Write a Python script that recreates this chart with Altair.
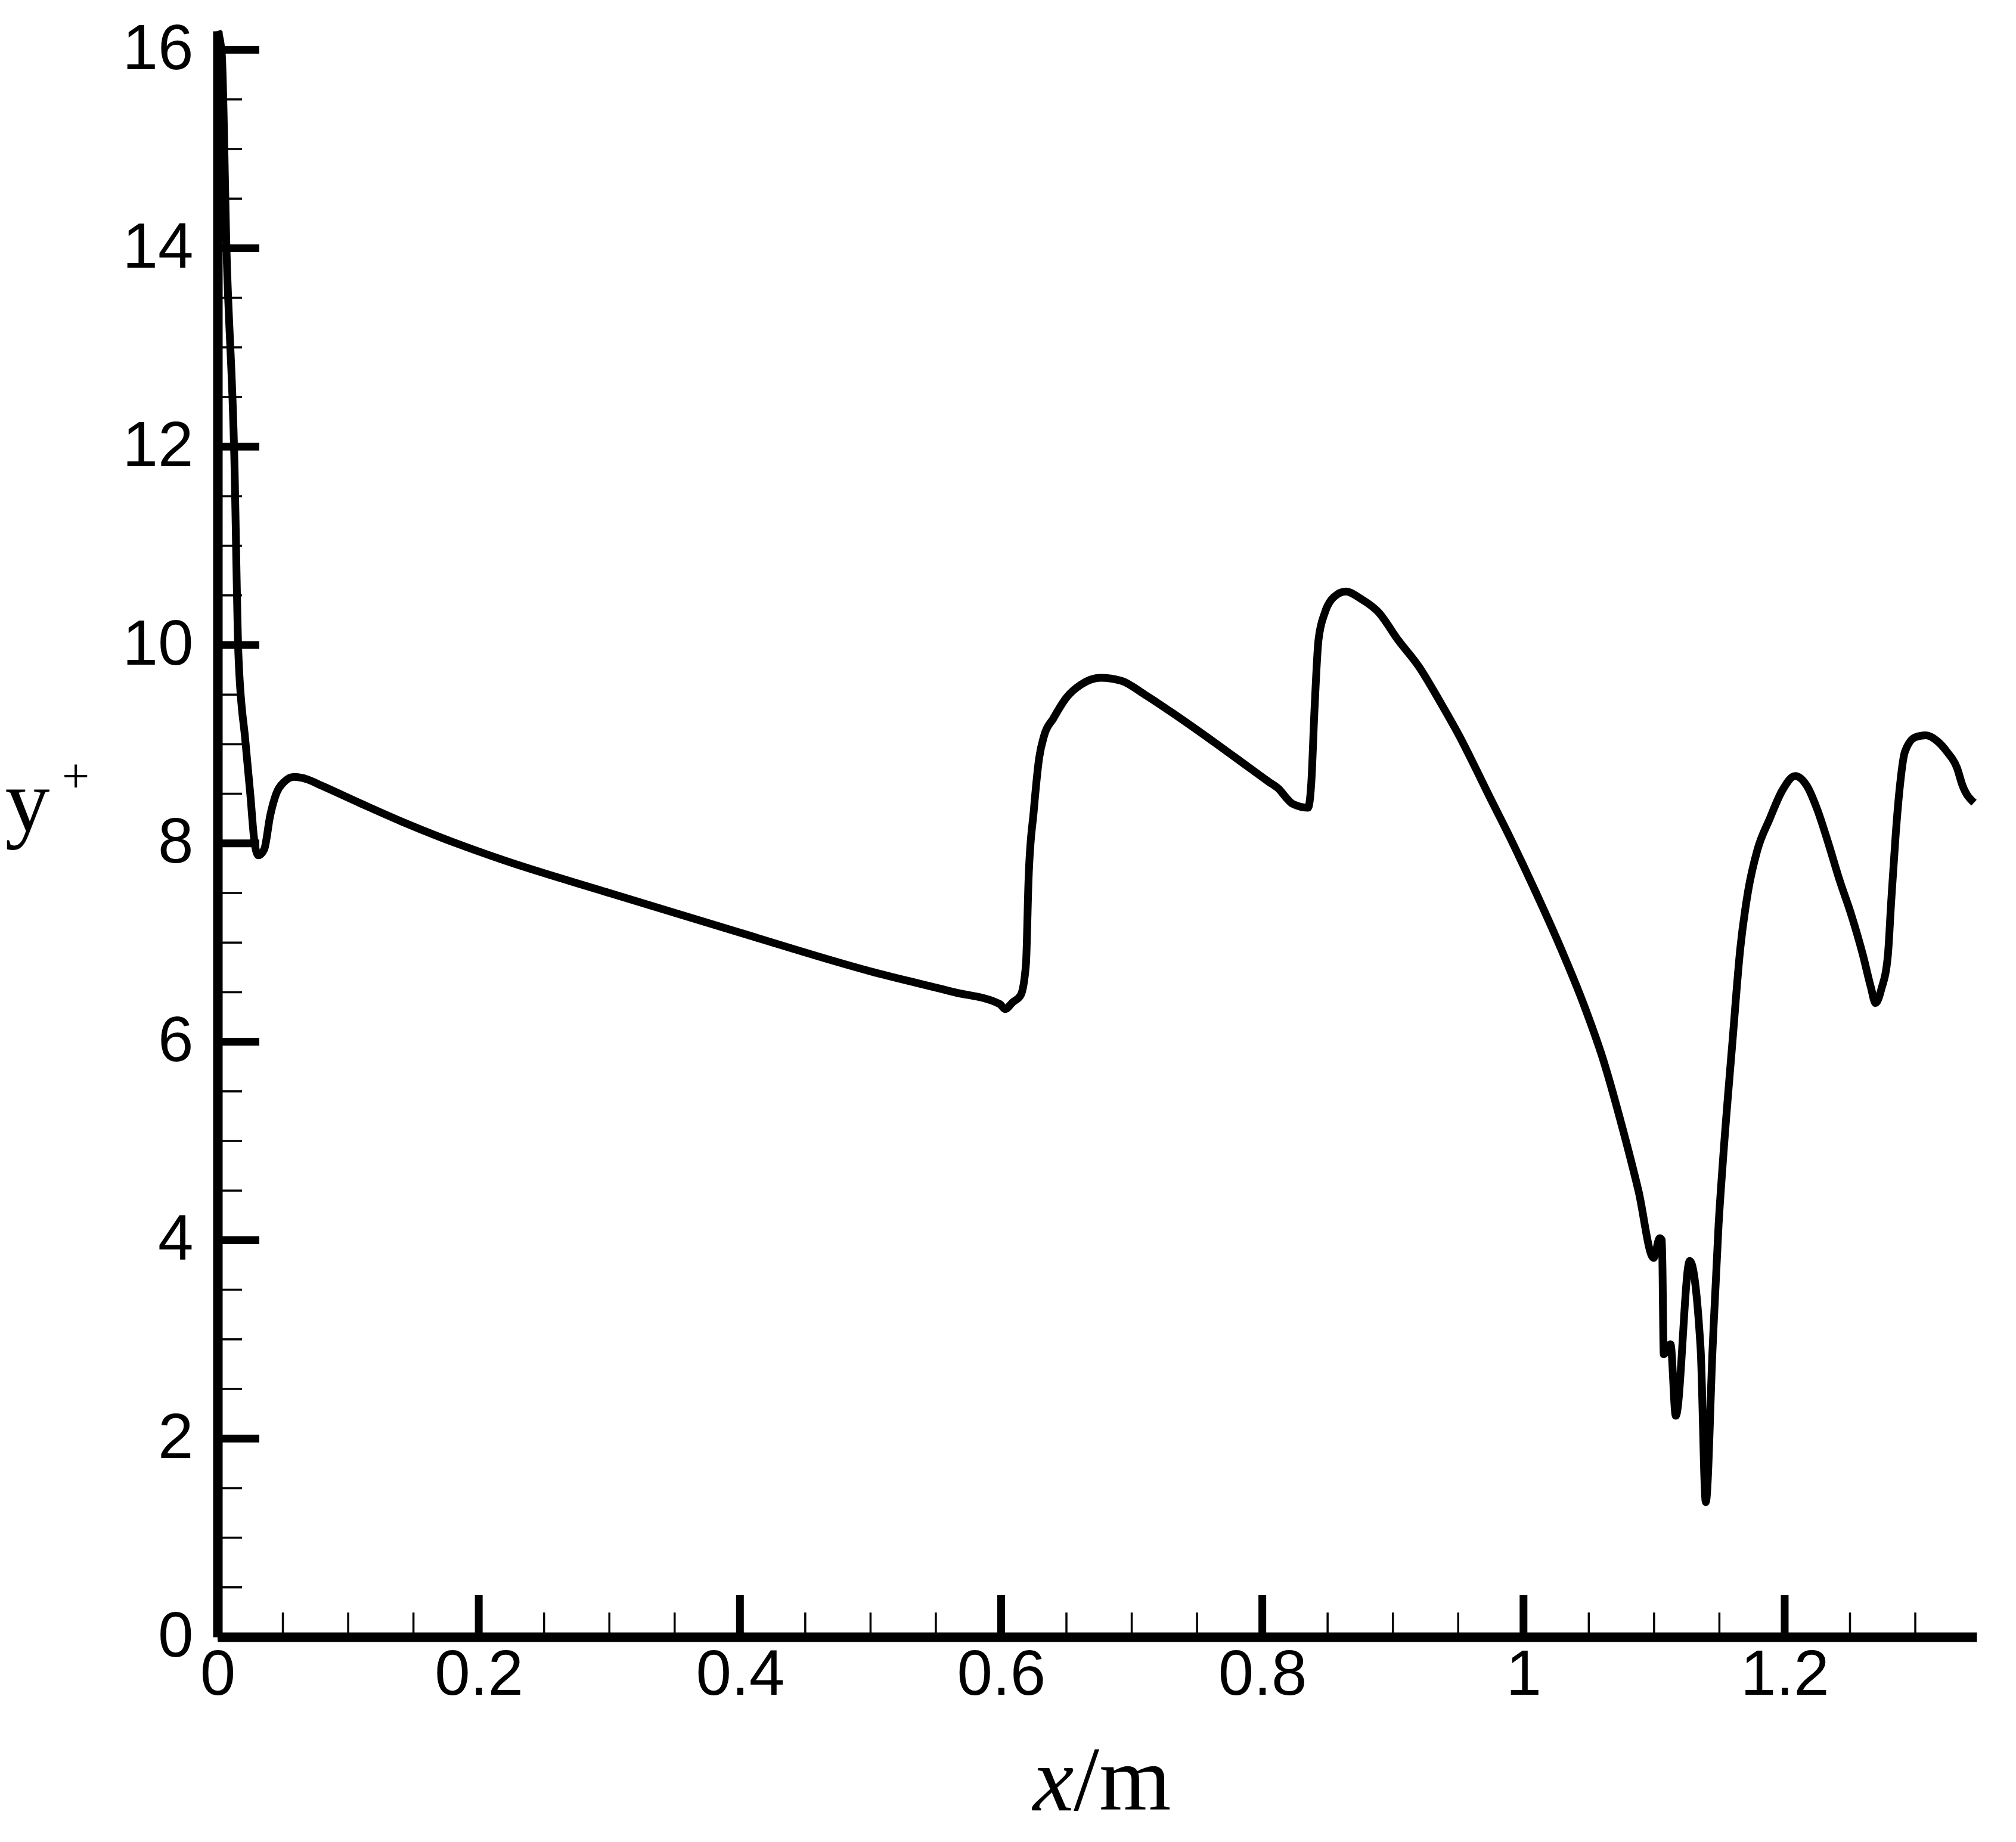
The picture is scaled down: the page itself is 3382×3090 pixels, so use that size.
import altair as alt
import pandas as pd

# ---- data ----
x_vals = [0.0, 0.0032, 0.0068, 0.0128, 0.016, 0.0213, 0.0251, 0.0282, 0.0312, 0.0357,
          0.0403, 0.0449, 0.051, 0.0586, 0.0677, 0.080, 0.110, 0.141, 0.171, 0.217,
          0.30, 0.40, 0.50, 0.564, 0.599, 0.603, 0.609, 0.615, 0.619, 0.621,
          0.625, 0.629, 0.633, 0.640, 0.650, 0.661, 0.676, 0.692, 0.710, 0.734,
          0.760, 0.781, 0.805, 0.8125, 0.819, 0.823, 0.835, 0.8375, 0.840, 0.843,
          0.848, 0.8545, 0.864, 0.875, 0.889, 0.904, 0.920, 0.936, 0.951, 0.964,
          0.9714, 0.990, 1.009, 1.028, 1.046, 1.061, 1.076, 1.088, 1.0997, 1.1043,
          1.1060, 1.1074, 1.1126, 1.1166, 1.1273, 1.1356, 1.1396, 1.1448, 1.1494, 1.1526,
          1.160, 1.166, 1.172, 1.179, 1.1886, 1.198, 1.208, 1.217, 1.225, 1.233,
          1.242, 1.251, 1.260, 1.266, 1.2696, 1.274, 1.279, 1.2815, 1.285, 1.288,
          1.292, 1.300, 1.308, 1.317, 1.3245, 1.332, 1.336, 1.345]
y_vals = [16.19, 15.96, 14.0, 11.9, 9.89, 9.03, 8.49, 8.02, 7.88, 7.94,
          8.28, 8.50, 8.62, 8.67, 8.65, 8.58, 8.40, 8.22, 8.06, 7.84,
          7.50, 7.10, 6.71, 6.50, 6.38, 6.33, 6.40, 6.47, 6.78, 7.64,
          8.33, 8.85, 9.09, 9.26, 9.47, 9.60, 9.67, 9.64, 9.50, 9.29,
          9.05, 8.85, 8.62, 8.55, 8.45, 8.40, 8.36, 8.61, 9.36, 10.05,
          10.33, 10.48, 10.54, 10.47, 10.33, 10.05, 9.78, 9.43, 9.08, 8.74,
          8.54, 8.05, 7.52, 6.96, 6.38, 5.82, 5.12, 4.50, 3.82, 4.02,
          4.00, 2.85, 2.95, 2.23, 3.79, 2.91, 1.36, 2.91, 4.16, 4.78,
          6.00, 6.94, 7.52, 7.93, 8.25, 8.53, 8.68, 8.58, 8.34, 8.02,
          7.63, 7.28, 6.87, 6.55, 6.39, 6.53, 6.87, 7.40, 8.09, 8.55,
          8.92, 9.07, 9.09, 9.03, 8.92, 8.76, 8.59, 8.41]

x_major = [0, 0.2, 0.4, 0.6, 0.8, 1.0, 1.2]
x_minor = [0.05, 0.1, 0.15, 0.25, 0.3, 0.35, 0.45, 0.5, 0.55, 0.65, 0.7, 0.75,
           0.85, 0.9, 0.95, 1.05, 1.1, 1.15, 1.25, 1.3]
y_major = [0, 2, 4, 6, 8, 10, 12, 14, 16]
y_minor = [0.5, 1, 1.5, 2.5, 3, 3.5, 4.5, 5, 5.5, 6.5, 7, 7.5, 8.5, 9, 9.5,
           10.5, 11, 11.5, 12.5, 13, 13.5, 14.5, 15, 15.5]

X_DOMAIN = [0, 1.347]
Y_DOMAIN = [0, 16.19]
W = 2951
H = 2694

df = pd.DataFrame({"x": x_vals, "y": y_vals})
xs = alt.Scale(domain=X_DOMAIN, nice=False, zero=False)
ys = alt.Scale(domain=Y_DOMAIN, nice=False, zero=False)

x_axis = alt.Axis(
    values=x_major, format="~g", grid=False, ticks=False, tickSize=0,
    labelFlush=False, labelFont="Liberation Sans", labelFontSize=107,
    labelColor="black", labelPadding=11, domainColor="black", domainWidth=16,
    title="x", titleFont="Liberation Serif", titleFontSize=155,
    titleFontStyle="italic", titleFontWeight="normal", titleColor="black",
    titleAlign="right", titleBaseline="alphabetic", titleX=1436, titleY=290)
y_axis = alt.Axis(
    values=y_major, format="~g", grid=False, ticks=False, tickSize=0,
    labelFlush=False, labelFont="Liberation Sans", labelFontSize=107,
    labelColor="black", labelPadding=41, domainColor="black", domainWidth=16,
    title="y", titleFont="Liberation Serif", titleFontSize=150,
    titleFontWeight="normal", titleColor="black", titleAngle=0,
    titleAlign="left", titleBaseline="alphabetic", titleX=-357, titleY=1341)

line = alt.Chart(df).mark_line(color="black", strokeWidth=13, strokeJoin="round",
                               interpolate="monotone").encode(
    x=alt.X("x:Q", scale=xs, axis=x_axis),
    y=alt.Y("y:Q", scale=ys, axis=y_axis),
)

ymaj = alt.Chart(pd.DataFrame({"v": y_major})).mark_rule(color="black", strokeWidth=13).encode(
    y=alt.Y("v:Q", scale=ys, axis=y_axis), x=alt.value(0), x2=alt.value(70))
ymin = alt.Chart(pd.DataFrame({"v": y_minor})).mark_rule(color="black", strokeWidth=3.5).encode(
    y=alt.Y("v:Q", scale=ys, axis=y_axis), x=alt.value(0), x2=alt.value(41))
xmaj = alt.Chart(pd.DataFrame({"v": x_major})).mark_rule(color="black", strokeWidth=13).encode(
    x=alt.X("v:Q", scale=xs, axis=x_axis), y=alt.value(H), y2=alt.value(H - 70))
xmin = alt.Chart(pd.DataFrame({"v": x_minor})).mark_rule(color="black", strokeWidth=3.5).encode(
    x=alt.X("v:Q", scale=xs, axis=x_axis), y=alt.value(H), y2=alt.value(H - 41))

plus = alt.Chart(pd.DataFrame({"t": ["+"]})).mark_text(
    font="Liberation Serif", fontSize=82, align="left", baseline="alphabetic", color="black"
).encode(text="t:N", x=alt.value(-261), y=alt.value(1277))
unit = alt.Chart(pd.DataFrame({"t": ["/m"]})).mark_text(
    font="Liberation Serif", fontSize=155, align="left", baseline="alphabetic", color="black"
).encode(text="t:N", x=alt.value(1436), y=alt.value(H + 290))

chart = alt.layer(line, xmin, xmaj, ymin, ymaj, plus, unit).properties(
    width=W, height=H,
    padding={"left": 0, "top": 21, "right": 10, "bottom": 10},
    background="white",
).configure_view(stroke=None)

chart.save("out.html", embed_options={"renderer": "svg", "actions": False})
